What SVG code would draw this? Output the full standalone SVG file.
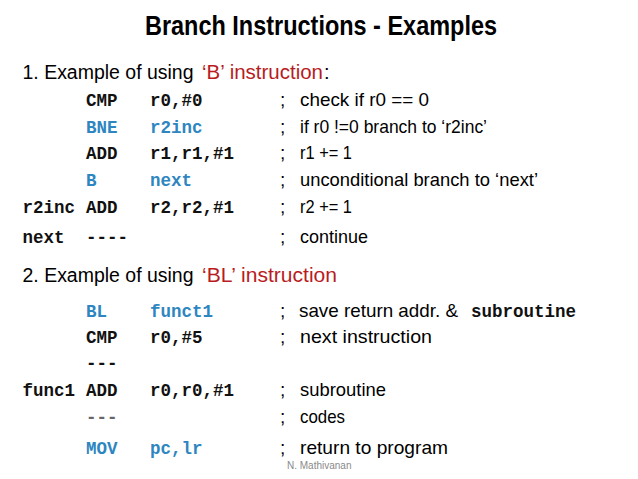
<svg xmlns="http://www.w3.org/2000/svg" width="638" height="479" viewBox="0 0 638 479">
<style>
.title{font-family:"Liberation Sans",Arial,sans-serif;font-weight:bold;font-size:27px;fill:#000}
.head{font-family:"Liberation Sans",Arial,sans-serif;font-size:20px;fill:#000}
.red{fill:#B81C22}
.code{font-family:"Liberation Mono","Courier New",monospace;font-weight:bold;font-size:17.5px;fill:#111}
.blue{fill:#2E86C1}
.dim{fill:#666}
.cm{font-family:"Liberation Sans",Arial,sans-serif;font-size:19px;fill:#000}
.wm{font-family:"Liberation Sans",Arial,sans-serif;font-size:10px;fill:#8a8a8a}
</style>
<rect width="638" height="479" fill="#fff"/>
<g id="title">
<text class="title" x="145" y="35" textLength="352" lengthAdjust="spacingAndGlyphs">Branch Instructions - Examples</text>
</g>
<g id="section1">
<text class="head" x="22.5" y="79" textLength="171" lengthAdjust="spacingAndGlyphs">1. Example of using</text>
<text class="head red" x="202" y="79" textLength="121" lengthAdjust="spacingAndGlyphs">‘B’ instruction</text>
<text class="head" x="324" y="79">:</text>

<text class="code" x="86" y="106">CMP</text>
<text class="code" x="150" y="106">r0,#0</text>
<text class="cm" x="280" y="106">;</text>
<text class="cm" x="300" y="106" textLength="129" lengthAdjust="spacingAndGlyphs">check if r0 == 0</text>

<text class="code blue" x="86" y="133">BNE</text>
<text class="code blue" x="150" y="133">r2inc</text>
<text class="cm" x="280" y="133">;</text>
<text class="cm" x="300" y="133" textLength="187" lengthAdjust="spacingAndGlyphs">if r0 !=0 branch to ‘r2inc’</text>

<text class="code" x="86" y="159">ADD</text>
<text class="code" x="150" y="159">r1,r1,#1</text>
<text class="cm" x="280" y="159">;</text>
<text class="cm" x="300" y="159" textLength="52" lengthAdjust="spacingAndGlyphs">r1 += 1</text>

<text class="code blue" x="86" y="186">B</text>
<text class="code blue" x="150" y="186">next</text>
<text class="cm" x="280" y="186">;</text>
<text class="cm" x="300" y="186" textLength="238" lengthAdjust="spacingAndGlyphs">unconditional branch to ‘next’</text>

<text class="code" x="22.5" y="213">r2inc</text>
<text class="code" x="86" y="213">ADD</text>
<text class="code" x="150" y="213">r2,r2,#1</text>
<text class="cm" x="280" y="213">;</text>
<text class="cm" x="300" y="213" textLength="52" lengthAdjust="spacingAndGlyphs">r2 += 1</text>

<text class="code" x="22.5" y="243">next</text>
<text class="code" x="86" y="243">----</text>
<text class="cm" x="280" y="243">;</text>
<text class="cm" x="300" y="243" textLength="68" lengthAdjust="spacingAndGlyphs">continue</text>
</g>
<g id="section2">
<text class="head" x="22.5" y="282" textLength="171" lengthAdjust="spacingAndGlyphs">2. Example of using</text>
<text class="head red" x="202" y="282" textLength="135" lengthAdjust="spacingAndGlyphs">‘BL’ instruction</text>

<text class="code blue" x="86" y="317">BL</text>
<text class="code blue" x="150" y="317">funct1</text>
<text class="cm" x="280" y="317">;</text>
<text class="cm" x="299" y="317" textLength="159" lengthAdjust="spacingAndGlyphs">save return addr. &amp;</text>
<text class="code" x="471" y="317">subroutine</text>

<text class="code" x="86" y="343">CMP</text>
<text class="code" x="150" y="343">r0,#5</text>
<text class="cm" x="280" y="343">;</text>
<text class="cm" x="300" y="343" textLength="132" lengthAdjust="spacingAndGlyphs">next instruction</text>

<text class="code" x="86" y="369">---</text>

<text class="code" x="22.5" y="396">func1</text>
<text class="code" x="86" y="396">ADD</text>
<text class="code" x="150" y="396">r0,r0,#1</text>
<text class="cm" x="280" y="396">;</text>
<text class="cm" x="300" y="396" textLength="86" lengthAdjust="spacingAndGlyphs">subroutine</text>

<text class="code dim" x="86" y="423">---</text>
<text class="cm" x="280" y="423">;</text>
<text class="cm" x="300" y="423" textLength="45" lengthAdjust="spacingAndGlyphs">codes</text>

<text class="code blue" x="86" y="454">MOV</text>
<text class="code blue" x="150" y="454">pc,lr</text>
<text class="cm" x="280" y="454">;</text>
<text class="cm" x="300" y="454" textLength="148" lengthAdjust="spacingAndGlyphs">return to program</text>
</g>
<g id="watermark">
<text class="wm" x="287" y="469">N. Mathivanan</text>
</g>
</svg>
